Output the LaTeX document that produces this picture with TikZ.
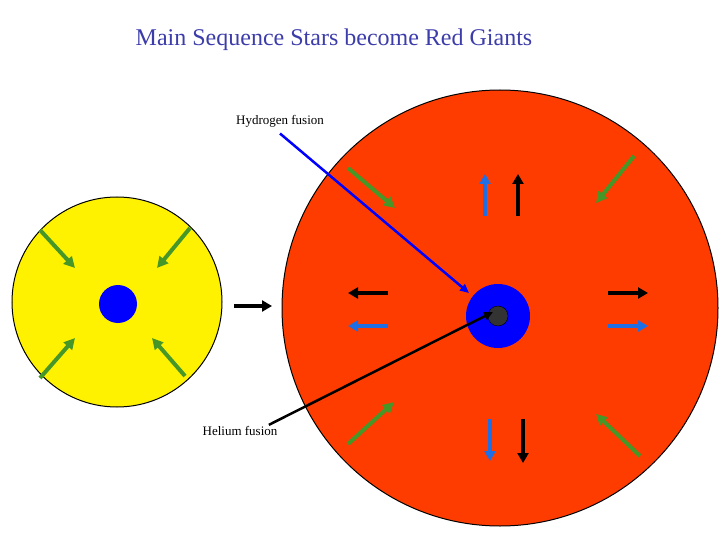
\documentclass[tikz,border=0pt]{standalone}
\usepackage{fontspec}
\usetikzlibrary{arrows.meta}
\setmainfont{Liberation Serif}
\definecolor{gr}{RGB}{70,150,40}
\definecolor{ab}{RGB}{30,110,230}
\definecolor{rg}{RGB}{255,60,0}
\definecolor{tt}{RGB}{60,60,170}
\begin{document}
\begin{tikzpicture}[x=1pt,y=-1pt,
  garrow/.style={line width=4pt,draw=gr,-{Triangle[length=11pt,width=11pt]}},
  karrow/.style={line width=4pt,-{Triangle[length=10pt,width=11pt]}},
  lbl/.style={font=\fontsize{13}{15}\selectfont}]
\useasboundingbox (0,0) rectangle (720,540);
\node[font=\fontsize{24}{28}\selectfont, text=tt] (title) at (334,40) {Main Sequence Stars become Red Giants};
% yellow star
\draw[fill=yellow, line width=1pt] (117,302) circle (105);
\fill[blue] (118,304) circle (19);
\coordinate (g1a) at (40,230); \coordinate (g1b) at (75,268);
\coordinate (g2a) at (190,228); \coordinate (g2b) at (157,268);
\coordinate (g3a) at (40,378); \coordinate (g3b) at (75,338);
\coordinate (g4a) at (185,376); \coordinate (g4b) at (152,338);
\foreach \i in {1,...,4} \draw[garrow] (g\i a) -- (g\i b);
\coordinate (m1) at (234,306); \coordinate (m2) at (272,306);
\draw[karrow] (m1) -- (m2);
% red giant
\draw[fill=rg, line width=1pt] (500,308) circle (218);
\fill[blue] (498,316) circle (32);
\draw[fill=black!80] (498,316) circle (10);
\coordinate (r1a) at (348,168); \coordinate (r1b) at (395,208);
\coordinate (r2a) at (634,156); \coordinate (r2b) at (596,203);
\coordinate (r3a) at (348,444); \coordinate (r3b) at (394,402);
\coordinate (r4a) at (640,456); \coordinate (r4b) at (596,414);
\foreach \i in {1,...,4} \draw[garrow] (r\i a) -- (r\i b);
\draw[karrow,ab] (485,216) -- (485,174);
\draw[karrow] (518,216) -- (518,174);
\draw[karrow] (388,293) -- (348,293);
\draw[karrow,ab] (388,326) -- (348,326);
\draw[karrow] (608,293) -- (648,293);
\draw[karrow,ab] (608,326) -- (648,326);
\draw[karrow,ab] (490,419) -- (490,461);
\draw[karrow] (523,419) -- (523,463);
% labels
\node[lbl] (hyd) at (280,121) {Hydrogen fusion};
\node[lbl] (hel) at (240,431) {Helium fusion};
\coordinate (hend) at (469,293);
\coordinate (heend) at (493,312);
\draw[blue, line width=2.5pt, -{Triangle[length=9pt,width=8pt]}] (hyd.south) ++(0,3) -- (hend);
\draw[black, line width=2.5pt, -{Triangle[length=9pt,width=8pt]}] (hel.north east) ++(-12,2) -- (heend);
\end{tikzpicture}
\end{document}
